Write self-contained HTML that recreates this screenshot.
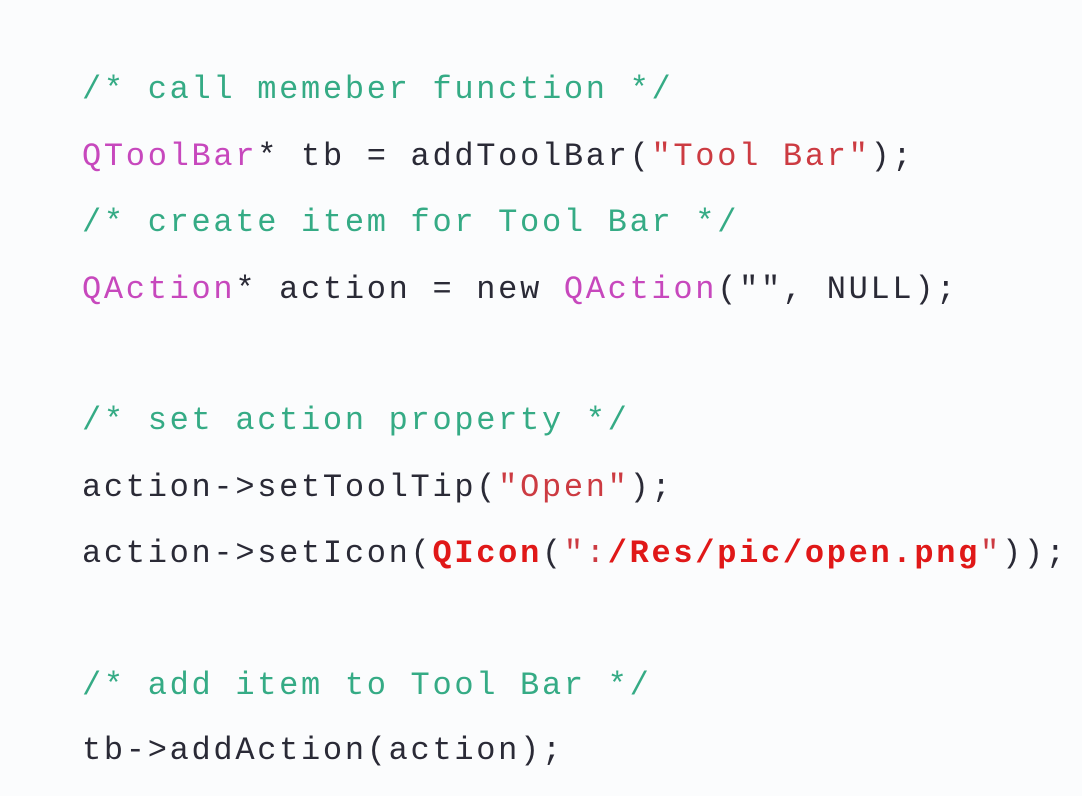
<!DOCTYPE html>
<html><head><meta charset="utf-8"><style>
html,body{margin:0;padding:0;width:1082px;height:796px;background:#fbfcfd;overflow:hidden}
.l{position:absolute;left:82px;font-family:"Liberation Mono","Courier New",monospace;font-size:32px;letter-spacing:2.7px;line-height:40px;white-space:pre;color:#2a2a36;}
.c{color:#35ab85}.m{color:#c748bd}.s{color:#cc3b42}.b{color:#e01818;font-weight:bold;letter-spacing:2.7px}
</style></head><body>
<div class="l c" style="top:70px">/* call memeber function */</div>
<div class="l" style="top:137px"><span class="m">QToolBar</span>* tb = addToolBar(<span class="s">"Tool Bar"</span>);</div>
<div class="l c" style="top:203px">/* create item for Tool Bar */</div>
<div class="l" style="top:270px"><span class="m">QAction</span>* action = new <span class="m">QAction</span>("", NULL);</div>
<div class="l c" style="top:401px">/* set action property */</div>
<div class="l" style="top:468px">action-&gt;setToolTip(<span class="s">"Open"</span>);</div>
<div class="l" style="top:534px">action-&gt;setIcon(<span class="b">QIcon</span>(<span class="s">":</span><span class="b">/Res/pic/open.png</span><span class="s">"</span>));</div>
<div class="l c" style="top:666px">/* add item to Tool Bar */</div>
<div class="l" style="top:731px">tb-&gt;addAction(action);</div>
</body></html>
